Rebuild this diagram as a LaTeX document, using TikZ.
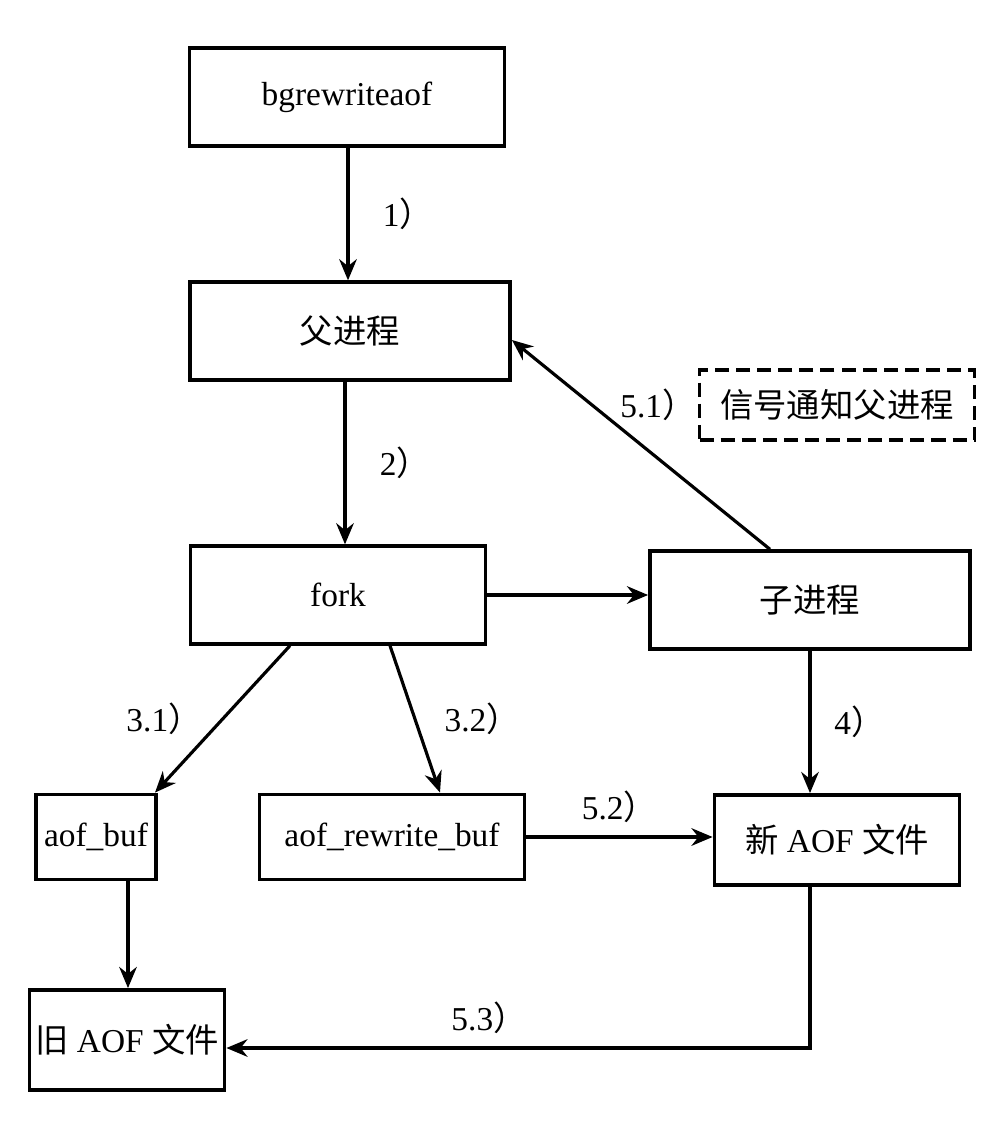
\documentclass[tikz,border=0pt]{standalone}
\usepackage{fontspec}
\setmainfont{Liberation Serif}
\newfontfamily\cjk{Noto Sans CJK SC}
\usetikzlibrary{arrows.meta}
\begin{document}
\begin{tikzpicture}[x=0.02cm,y=-0.02cm,font=\fontsize{19}{23}\selectfont,
  box/.style={draw,line width=2.2pt,minimum width=#1,inner sep=0pt,minimum height=1.95cm},
  dbox/.style={draw,dash pattern=on 8pt off 4pt,line width=2.2pt,minimum width=5.5cm,minimum height=1.4cm,inner sep=0pt},
  arr/.style={-{Stealth[length=12pt,width=10pt]},line width=1.8pt},
  lab/.style={inner sep=1pt}]
\useasboundingbox (0,0) rectangle (1000,1122);
\node[box=6.3cm] (bg) at (347,97) {bgrewriteaof};
\node[box=6.4cm] (fa) at (350,331) {\cjk 父进程};
\node[box=5.9cm] (fk) at (338,595) {fork};
\node[box=6.4cm] (ch) at (810,600) {\cjk 子进程};
\node[dbox] (sg) at (837,405) {\cjk 信号通知父进程};
\node[box=2.4cm,minimum height=1.7cm] (ab) at (96,837) {aof\_buf};
\node[box=5.3cm,minimum height=1.7cm] (rb) at (392,837) {aof\_rewrite\_buf};
\node[box=4.9cm,minimum height=1.8cm] (na) at (837,840) {{\cjk 新} AOF {\cjk 文件}};
\node[box=3.9cm,minimum height=2cm] (oa) at (127,1040) {{\cjk 旧} AOF {\cjk 文件}};
\coordinate (c1) at (810,1048);
\draw[arr] (bg.south -| 348,0) -- (fa.north -| 348,0) node[lab,midway,right=18pt] {1\cjk{）}};
\draw[arr] (fa.south -| 345,0) -- (fk.north -| 345,0) node[lab,midway,right=18pt] {2\cjk{）}};
\draw[arr] (fk.east) -- (ch.west |- fk.east);
\draw[arr] (ch.north -| 770,0) -- (fa.east |- 0,340);
\node[lab,anchor=east] (l51) at (sg.west) {5.1\cjk{）}};
\draw[arr] (fk.south -| 290,0) -- (ab.north -| 155,0) node[lab,midway,left=10pt] {3.1\cjk{）}};
\draw[arr] (fk.south -| 390,0) -- (rb.north -| 440,0) node[lab,midway,right=15pt] {3.2\cjk{）}};
\draw[arr] (ch.south) -- (na.north -| ch.south) node[lab,midway,right=12pt] {4\cjk{）}};
\draw[arr] (rb.east) -- (na.west |- rb.east) node[lab,midway,above=6pt] {5.2\cjk{）}};
\draw[arr] (ab.south -| 128,0) -- (oa.north -| 128,0);
\draw[arr] (na.south -| c1) -- (c1) -- (oa.east |- c1) node[lab,pos=0.55,above=6pt] {5.3\cjk{）}};
\end{tikzpicture}
\end{document}
